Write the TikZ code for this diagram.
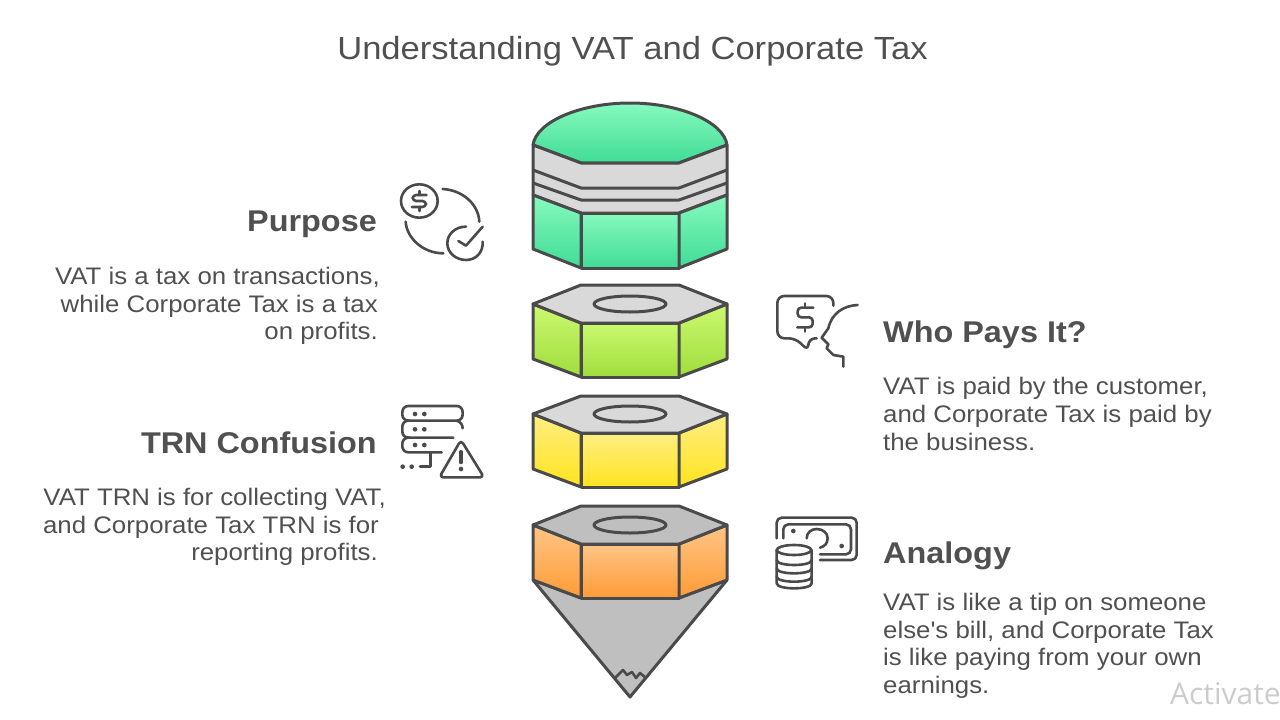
\documentclass[tikz,border=0pt]{standalone}
\usepackage{fontspec}
\newfontfamily\mainf{Liberation Sans}[FakeStretch=1.08]
\newfontfamily\wmf{Open Sans}
\definecolor{ink}{HTML}{4A4A4A}
\definecolor{txt}{HTML}{505050}
\definecolor{capgray}{HTML}{D9D9D9}
\definecolor{conegray}{HTML}{BFBFBF}
\definecolor{green1}{HTML}{86F9BE}\definecolor{green2}{HTML}{40DC96}
\definecolor{lime1}{HTML}{CBF870}\definecolor{lime2}{HTML}{A0DE3C}
\definecolor{yellow1}{HTML}{FFEE82}\definecolor{yellow2}{HTML}{FFE41E}
\definecolor{orange1}{HTML}{FFC586}\definecolor{orange2}{HTML}{FF9B36}
\tikzset{
  face/.style={draw=ink,line width=3pt,line join=round},
  capface/.style={face,fill=capgray},
  gface/.style={face,top color=green1,bottom color=green2},
  lface/.style={face,top color=lime1,bottom color=lime2},
  yface/.style={face,top color=yellow1,bottom color=yellow2},
  oface/.style={face,top color=orange1,bottom color=orange2},
  icon/.style={draw=ink,line width=2.6pt,line cap=round,line join=round},
  heading/.style={font=\mainf\fontsize{30}{34}\selectfont\bfseries,text=txt,inner sep=0pt},
  bodyr/.style={font=\mainf\fontsize{23.9}{27.6}\selectfont,text=txt,inner sep=0pt,align=right},
  bodyl/.style={font=\mainf\fontsize{23.9}{27.6}\selectfont,text=txt,inner sep=0pt,align=left},
}
\begin{document}
\begin{tikzpicture}[x=1pt,y=-1pt]
\useasboundingbox (0,0) rectangle (1280,720);
% top green block
\draw[gface] (533,145) .. controls (536,122) and (580,103) .. (630,103) .. controls (680,103) and (724,122) .. (727,145) -- (679,163) -- (581,163) -- cycle;
\draw[capface] (533,145) -- (581,163) -- (679,163) -- (727,145) -- (727,195) -- (679,213) -- (581,213) -- (533,195) -- cycle;
\draw[face] (533,170) -- (581,188) -- (679,188) -- (727,170);
\draw[face] (533,183) -- (581,200) -- (679,200) -- (727,183);
\draw[gface] (533,195) -- (581,213) -- (581,268) -- (533,249) -- cycle;
\draw[gface] (581,213) -- (679,213) -- (679,268) -- (581,268) -- cycle;
\draw[gface] (679,213) -- (727,195) -- (727,249) -- (679,268) -- cycle;
% lime nut
\draw[lface] (533,304) -- (581,323) -- (581,377) -- (533,359) -- cycle;
\draw[lface] (581,323) -- (679,323) -- (679,377) -- (581,377) -- cycle;
\draw[lface] (679,323) -- (727,304) -- (727,359) -- (679,377) -- cycle;
\draw[capface] (533,304) -- (581,285) -- (679,285) -- (727,304) -- (679,323) -- (581,323) -- cycle;
\draw[face] (630,304) ellipse [x radius=36,y radius=8];
% yellow nut
\draw[yface] (533,414) -- (581,433) -- (581,487) -- (533,469) -- cycle;
\draw[yface] (581,433) -- (679,433) -- (679,487) -- (581,487) -- cycle;
\draw[yface] (679,433) -- (727,414) -- (727,469) -- (679,487) -- cycle;
\draw[capface] (533,414) -- (581,396) -- (679,396) -- (727,414) -- (679,433) -- (581,433) -- cycle;
\draw[face] (630,414) ellipse [x radius=36,y radius=8];
% cone
\draw[face,fill=conegray] (533,580) -- (630,697) -- (727,580) -- (679,598) -- (581,598) -- cycle;
\draw[face,line width=2.6pt] (615,678) -- (623,670) -- (627,675) -- (632,672) -- (636,678) -- (640,673) -- (646,678);
% orange nut
\draw[oface] (533,525) -- (581,544) -- (581,598) -- (533,580) -- cycle;
\draw[oface] (581,544) -- (679,544) -- (679,598) -- (581,598) -- cycle;
\draw[oface] (679,544) -- (727,525) -- (727,580) -- (679,598) -- cycle;
\draw[capface,fill=conegray] (533,525) -- (581,506) -- (679,506) -- (727,525) -- (679,544) -- (581,544) -- cycle;
\draw[face] (630,525) ellipse [x radius=36,y radius=8];
% purpose icon
\begin{scope}[shift={(390,175)},x=.3333pt,y=-.3333pt]
\draw[icon] (88,78) ellipse [x radius=55,y radius=50];
\draw[icon,rounded corners=3.5pt] (110,60) -- (68,60) -- (68,78) -- (108,78) -- (108,96) -- (66,96);
\draw[icon] (88,48) -- (88,60) (88,96) -- (88,108);
\draw[icon] (158,42) .. controls (215,45) and (265,85) .. (268,140);
\draw[icon] (47,140) .. controls (50,190) and (100,235) .. (160,235);
\draw[icon] (228,155) .. controls (195,155) and (172,178) .. (172,205) .. controls (172,235) and (200,255) .. (228,255) .. controls (258,255) and (280,232) .. (278,200);
\draw[icon] (205,198) -- (228,212) -- (278,155);
\end{scope}
% trn icon
\begin{scope}[shift={(390,395)},x=.3333pt,y=-.3333pt]
\draw[icon,rounded corners=6pt] (200,77) -- (37,77) -- (37,33) -- (218,33) -- (218,77) -- (200,77);
\draw[icon,rounded corners=6pt] (60,77) -- (37,77) -- (37,128) -- (190,128);
\draw[icon] (200,77) .. controls (212,80) and (218,90) .. (218,100);
\draw[icon,rounded corners=6pt] (60,128) -- (37,128) -- (37,172) -- (155,172);
\draw[icon] (122,172) -- (122,215) -- (90,215);
\foreach \px/\py in {75/57,103/57,75/103,103/103,75/150,103/150,38/215,65/215}
  \fill[ink] (\px,\py) circle [x radius=7,y radius=7];
\draw[icon,rounded corners=4pt] (213,135) -- (282,247) -- (148,247) -- cycle;
\draw[icon,line width=3.2pt] (213,170) -- (213,203);
\fill[ink] (213,222) circle [x radius=7,y radius=7];
\end{scope}
% who pays icon
\begin{scope}[shift={(765,285)},x=.3333pt,y=-.3333pt]
\draw[icon,rounded corners=7pt] (205,62) -- (205,33) -- (37,33) -- (37,160) -- (92,160) -- (130,198) -- (130,160) -- (155,160);
\draw[icon,rounded corners=3.5pt] (145,68) -- (98,68) -- (98,97) -- (143,97) -- (143,127) -- (97,127);
\draw[icon] (120,55) -- (120,68) (120,127) -- (120,140);
\draw[icon] (278,60) .. controls (235,62) and (200,85) .. (190,130) -- (170,158) -- (190,178) -- (185,190) -- (205,210) -- (235,215) -- (235,245);
\end{scope}
% analogy icon
\begin{scope}[shift={(765,505)},x=.3333pt,y=-.3333pt]
\draw[icon,rounded corners=5pt] (35,100) -- (35,38) -- (275,38) -- (275,165) -- (165,165);
\draw[icon,rounded corners=5pt] (55,100) -- (55,58) -- (258,58) -- (258,148) -- (165,148);
\fill[ink] (85,78) circle [x radius=7,y radius=7];
\fill[ink] (230,123) circle [x radius=7,y radius=7];
\draw[icon] (125,100) .. controls (125,82) and (140,72) .. (155,72) .. controls (175,72) and (188,85) .. (188,100) .. controls (188,115) and (178,125) .. (165,128);
\draw[icon,fill=white] (87,135) ellipse [x radius=52,y radius=15];
\draw[icon] (35,135) -- (35,235) .. controls (35,255) and (140,255) .. (140,235) -- (140,135);
\draw[icon] (35,165) .. controls (35,185) and (140,185) .. (140,165);
\draw[icon] (35,190) .. controls (35,210) and (140,210) .. (140,190);
\draw[icon] (35,215) .. controls (35,235) and (140,235) .. (140,215);
\end{scope}
% texts
\node[font=\mainf\fontsize{32}{36}\selectfont,text=txt,inner sep=0pt] (title) at (632.5,51) {Understanding VAT and Corporate Tax};
\node[heading,anchor=east] (h1) at (377,224) {Purpose};
\node[bodyr,anchor=east] (b1) at (378,306) {VAT is a tax on transactions,\kern-2pt\\while Corporate Tax is a tax\\on profits.};
\node[heading,anchor=east] (h2) at (377,443) {TRN Confusion};
\node[bodyr,anchor=east] (b2) at (378,527) {VAT TRN is for collecting VAT,\kern-8pt\\and Corporate Tax TRN is for\kern-1pt\\reporting profits.};
\node[heading,anchor=west] (h3) at (883,335) {Who Pays It?};
\node[bodyl,anchor=west] (b3) at (883,414) {VAT is paid by the customer,\\and Corporate Tax is paid by\\the business.};
\node[heading,anchor=west] (h4) at (883,556) {Analogy};
\node[bodyl,anchor=west] (b4) at (883,646) {VAT is like a tip on someone\\else's bill, and Corporate Tax\\is like paying from your own\\earnings.};
\node[font=\wmf\fontsize{30}{34}\selectfont,text=black!20,inner sep=0pt,anchor=west] (wm) at (1170,694) {Activate};
\end{tikzpicture}
\end{document}
